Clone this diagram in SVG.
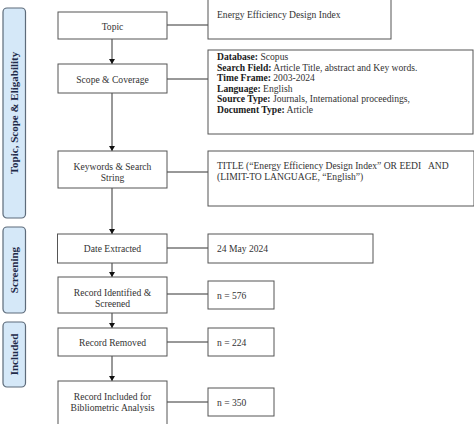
<svg xmlns="http://www.w3.org/2000/svg" width="474" height="424" viewBox="0 0 474 424">
<style>
.bar{fill:#d5e8f8;stroke:#5d6b7a;stroke-width:1.2}
.bt{font-family:"Liberation Serif",serif;font-size:11px;font-weight:bold;fill:#1e2a48;text-anchor:middle}
.box{fill:#fff;stroke:#555;stroke-width:1}
.t{font-family:"Liberation Serif",serif;font-size:9.6px;fill:#333;white-space:pre}
.c{text-anchor:middle}
.b{font-weight:bold;fill:#1a1a1a}
.ln{stroke:#333;stroke-width:1;fill:none}
</style>
<defs>
<marker id="ah" markerWidth="6" markerHeight="6" refX="5" refY="3" orient="auto" markerUnits="userSpaceOnUse">
<path d="M0,0 L5,3 L0,6 Z" fill="#111"/>
</marker>
</defs>
<rect width="474" height="424" fill="#fff"/>
<g id="bar-topic"><rect class="bar" x="3" y="8" width="22.5" height="210" rx="4"/><text class="bt" transform="translate(18,113) rotate(-90)">Topic, Scope &amp; Eligability</text></g>
<g id="bar-screening"><rect class="bar" x="3" y="227" width="22.5" height="86" rx="4"/><text class="bt" transform="translate(18,270) rotate(-90)">Screening</text></g>
<g id="bar-included"><rect class="bar" x="3" y="322" width="22.5" height="65" rx="4"/><text class="bt" transform="translate(18,354.5) rotate(-90)">Included</text></g>
<g id="connectors">
<line class="ln" x1="112" y1="39" x2="112" y2="64" marker-end="url(#ah)"/>
<line class="ln" x1="112" y1="93" x2="112" y2="151" marker-end="url(#ah)"/>
<line class="ln" x1="112" y1="188" x2="112" y2="234" marker-end="url(#ah)"/>
<line class="ln" x1="112" y1="263" x2="112" y2="277" marker-end="url(#ah)"/>
<line class="ln" x1="112" y1="313" x2="112" y2="328" marker-end="url(#ah)"/>
<line class="ln" x1="112" y1="356" x2="112" y2="381" marker-end="url(#ah)"/>
<line class="ln" x1="167" y1="25" x2="208" y2="25"/>
<line class="ln" x1="167" y1="79" x2="208" y2="79"/>
<line class="ln" x1="167" y1="172" x2="208" y2="172"/>
<line class="ln" x1="167" y1="248" x2="208" y2="248"/>
<line class="ln" x1="167" y1="294" x2="208" y2="294"/>
<line class="ln" x1="167" y1="342" x2="208" y2="342"/>
<line class="ln" x1="167" y1="402" x2="208" y2="402"/>
</g>
<g id="topic"><rect class="box" x="58" y="12" width="109" height="27"/><text class="t c" x="112.5" y="29.5">Topic</text></g>
<g id="scope"><rect class="box" x="58" y="64" width="109" height="29"/><text class="t c" x="112.5" y="82.5">Scope &amp; Coverage</text></g>
<g id="keywords"><rect class="box" x="58" y="151" width="109" height="37"/><text class="t c" x="112.5" y="169.5">Keywords &amp; Search</text><text class="t c" x="112.5" y="180.5">String</text></g>
<g id="date"><rect class="box" x="57.5" y="234" width="109.5" height="29"/><text class="t c" x="112.5" y="251.5">Date Extracted</text></g>
<g id="identified"><rect class="box" x="58" y="277" width="109" height="36"/><text class="t c" x="112.5" y="295.5">Record Identified &amp;</text><text class="t c" x="112.5" y="306.5">Screened</text></g>
<g id="removed"><rect class="box" x="58" y="328" width="109" height="28"/><text class="t c" x="112.5" y="345.5">Record Removed</text></g>
<g id="included"><rect class="box" x="58" y="381" width="109" height="46"/><text class="t c" x="112.5" y="399.5">Record Included for</text><text class="t c" x="112.5" y="410.5">Bibliometric Analysis</text></g>
<g id="topic-detail"><rect class="box" x="208" y="-3" width="183" height="42"/><text class="t" x="217" y="17.5">Energy Efficiency Design Index</text></g>
<g id="scope-detail"><rect class="box" x="208" y="50" width="265" height="84"/>
<text class="t" x="217" y="60"><tspan class="b">Database:</tspan> Scopus</text>
<text class="t" x="217" y="70.5"><tspan class="b">Search Field:</tspan> Article Title, abstract and Key words.</text>
<text class="t" x="217" y="81"><tspan class="b">Time Frame:</tspan> 2003-2024</text>
<text class="t" x="217" y="91.5"><tspan class="b">Language:</tspan> English</text>
<text class="t" x="217" y="102"><tspan class="b">Source Type:</tspan> Journals, International proceedings,</text>
<text class="t" x="217" y="112.5"><tspan class="b">Document Type:</tspan> Article</text>
</g>
<g id="keywords-detail"><rect class="box" x="208" y="151" width="266" height="55"/>
<text class="t" x="217" y="168.5" xml:space="preserve">TITLE (“Energy Efficiency Design Index” OR EEDI   AND</text>
<text class="t" x="217" y="179.5">(LIMIT-TO LANGUAGE, “English”)</text>
</g>
<g id="date-detail"><rect class="box" x="208" y="234" width="165" height="29"/><text class="t" x="217" y="251.5">24 May 2024</text></g>
<g id="n576"><rect class="box" x="208" y="281" width="66" height="28"/><text class="t" x="217" y="298.5">n = 576</text></g>
<g id="n224"><rect class="box" x="208" y="328" width="66" height="28"/><text class="t" x="217" y="345.5">n = 224</text></g>
<g id="n350"><rect class="box" x="208" y="388" width="66" height="28"/><text class="t" x="217" y="405.5">n = 350</text></g>
</svg>
